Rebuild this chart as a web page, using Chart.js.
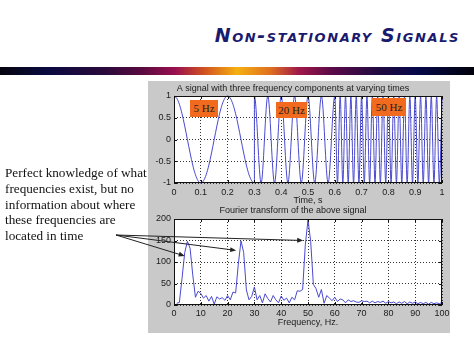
<!DOCTYPE html>
<html>
<head>
<meta charset="utf-8">
<script src="https://cdn.jsdelivr.net/npm/chart.js@4.4.1/dist/chart.umd.min.js"></script>
<style>
html,body{margin:0;padding:0;background:#fff;}
#slide{position:relative;width:474px;height:355px;overflow:hidden;background:#fff;}
#title{position:absolute;right:14px;top:26px;font-family:"DejaVu Sans",sans-serif;font-style:italic;font-weight:bold;font-size:19px;line-height:19px;font-variant:small-caps;letter-spacing:1.6px;color:#1a1a6e;white-space:nowrap;}
#bar{position:absolute;left:0;top:67px;width:474px;height:8px;
 background:linear-gradient(to right,#05050f 0%,#0a0a40 10%,#2a0a3a 22%,#5a0a40 30%,#9a1050 37%,#d05020 43%,#f5b010 50%,#e07020 57%,#a01848 63%,#5a0a48 70%,#200a40 80%,#05084a 88%,#02020a 100%);}
#panel{position:absolute;left:148px;top:81px;width:302px;height:252px;background:#c9c9c9;}
canvas{position:absolute;left:0;}
#c1{top:81px;}
#c2{top:205px;}
.tag{position:absolute;background:#f26a1e;font-family:"Liberation Serif",serif;font-size:11px;color:#222;text-align:center;}
#note{position:absolute;left:5px;top:165px;font-family:"Liberation Serif",serif;font-size:13.2px;line-height:15.8px;color:#111;white-space:nowrap;}
</style>
</head>
<body>
<div id="slide">
  <div id="title">Non-stationary Signals</div>
  <div id="bar"></div>
  <div id="panel"></div>
  <canvas id="c1" width="474" height="130"></canvas>
  <canvas id="c2" width="474" height="135"></canvas>
  <div class="tag" style="left:190px;top:100px;width:28px;height:17px;line-height:17px;">5 Hz</div>
  <div class="tag" style="left:276px;top:102px;width:31px;height:16px;line-height:16px;">20 Hz</div>
  <div class="tag" style="left:372px;top:98px;width:34px;height:18px;line-height:18px;">50 Hz</div>
  <div id="note">Perfect knowledge of what<br>frequencies exist, but no<br>information about where<br>these frequencies are<br>located in time</div>
</div>
<script>
// ---- data ----
const signalTime5 = [0,0.01,0.02,0.03,0.04,0.05,0.06,0.07,0.08,0.09,0.1,0.11,0.12,0.13,0.14,0.15,0.16,0.17,0.18,0.19,0.2,0.21,0.22,0.23,0.24,0.25,0.26,0.27,0.28,0.29,0.3];
const signalVal5 = [1,0.95,0.81,0.59,0.31,0,-0.31,-0.59,-0.81,-0.95,-1,-0.95,-0.81,-0.59,-0.31,0,0.31,0.59,0.81,0.95,1,0.95,0.81,0.59,0.31,0,-0.31,-0.59,-0.81,-0.95,-1];
const signalTime20 = [0.3,0.325,0.35,0.375,0.4,0.425,0.45,0.475,0.5,0.525,0.55,0.575];
const signalVal20 = [1,-1,1,-1,1,-1,1,-1,1,-1,1,-1];
const signalTime50 = [0.6,0.61,0.62,0.63,0.64,0.65,0.66,0.67,0.68,0.69,0.7,0.71,0.72,0.73,0.74,0.75,0.76,0.77,0.78,0.79,0.8,0.81,0.82,0.83,0.84,0.85,0.86,0.87,0.88,0.89,0.9,0.91,0.92,0.93,0.94,0.95,0.96,0.97,0.98,0.99,1];
const signalVal50 = [1,-1,1,-1,1,-1,1,-1,1,-1,1,-1,1,-1,1,-1,1,-1,1,-1,1,-1,1,-1,1,-1,1,-1,1,-1,1,-1,1,-1,1,-1,1,-1,1,-1,1];

const freqHz = [1,2,3,4,5,6,7,8,9,10,11,12,13,14,15,16,17,18,19,20,21,22,23,24,25,26,27,28,29,30,31,32,33,34,35,36,37,38,39,40,41,42,43,44,45,46,47,48,49,50,51,52,53,54,55,56,57,58,59,60,61,62,63,64,65,66,67,68,69,70,71,72,73,74,75,76,77,78,79,80,81,82,83,84,85,86,87,88,89,90,91,92,93,94,95,96,97,98,99,100];
const spectrum = [4,6,62,122,148,132,70,18,32,27,
 16,22,9,20,2,19,14,17,11,22,
 12,30,28,95,149,122,35,12,20,42,
 12,22,5,26,15,7,22,12,5,21,
 11,16,5,18,12,33,32,36,140,198,
 148,48,38,18,36,4,22,16,10,18,
 8,14,12,5,12,8,10,7,6,10,
 8,9,5,9,5,8,6,9,4,8,
 5,7,3,7,4,8,3,7,4,7,
 3,6,3,6,2,6,3,5,3,6];

const timeTicks = [0,0.1,0.2,0.3,0.4,0.5,0.6,0.7,0.8,0.9,1];
const ampTicks = [-1,-0.5,0,0.5,1];
const freqTicks = [0,10,20,30,40,50,60,70,80,90,100];
const magTicks = [0,50,100,150,200];

const topTitle = 'A signal with three frequency components at varying times';
const topXLabel = 'Time, s';
const botTitle = 'Fourier transform of the above signal';
const botXLabel = 'Frequency, Hz.';

// ---- drawing ----
const FONT = '"Liberation Sans", Arial, sans-serif';
const LINE = '#4a4ad0';
const TXT = '#1a1a1a';

function zip(xs, ys){ return xs.map((x,i)=>({x:x, y:ys[i]})); }
function fmt(v){ return String(Math.round(v*1000)/1000); }

const framePlugin = {
  id:'frame',
  beforeDraw(c){
    const a=c.chartArea, ctx=c.ctx;
    ctx.save(); ctx.fillStyle='#fff';
    ctx.fillRect(a.left,a.top,a.right-a.left,a.bottom-a.top);
    ctx.restore();
  },
  afterDatasetsDraw(c){
    const a=c.chartArea, ctx=c.ctx;
    ctx.save(); ctx.strokeStyle='#111'; ctx.lineWidth=1;
    ctx.strokeRect(Math.round(a.left)+0.5, Math.round(a.top)+0.5, Math.round(a.right-a.left)-1, Math.round(a.bottom-a.top)-1);
    ctx.beginPath();
    c.scales.x.ticks.forEach(t=>{ const px=Math.round(c.scales.x.getPixelForValue(t.value))+0.5;
      ctx.moveTo(px,a.bottom); ctx.lineTo(px,a.bottom-3); ctx.moveTo(px,a.top); ctx.lineTo(px,a.top+3); });
    c.scales.y.ticks.forEach(t=>{ const py=Math.round(c.scales.y.getPixelForValue(t.value))+0.5;
      ctx.moveTo(a.left,py); ctx.lineTo(a.left+3,py); ctx.moveTo(a.right,py); ctx.lineTo(a.right-3,py); });
    ctx.stroke();
    ctx.restore();
  }
};

function scalesFor(xmin,xmax,xt,ymin,ymax,yt,xLabel,xPad){
  const grid = {color:'#333', drawTicks:false, lineWidth:1};
  return {
    x:{type:'linear', min:xmin, max:xmax,
       afterBuildTicks:s=>{ s.ticks = xt.map(v=>({value:v})); },
       ticks:{padding:xPad, color:TXT, font:{family:FONT,size:9}, maxRotation:0, autoSkip:false, callback:fmt},
       grid:grid, border:{display:false, dash:[1,2]},
       title:{display:true, text:xLabel, color:TXT, font:{family:FONT,size:9}, padding:0},
       afterFit:s=>{ s.height=23; }},
    y:{type:'linear', min:ymin, max:ymax,
       afterBuildTicks:s=>{ s.ticks = yt.map(v=>({value:v})); },
       ticks:{padding:3, color:TXT, font:{family:FONT,size:9}, callback:fmt},
       grid:grid, border:{display:false, dash:[1,2]},
       afterFit:s=>{ s.width=30; }}
  };
}

new Chart(document.getElementById('c1'), {
  type:'line',
  data:{datasets:[{
    label:'signal',
    data: zip(signalTime5,signalVal5).concat(zip(signalTime20,signalVal20), zip(signalTime50,signalVal50)),
    borderColor:LINE, borderWidth:1, pointRadius:0, fill:false,
    cubicInterpolationMode:'monotone', clip:false
  }]},
  options:{
    responsive:false, animation:false, devicePixelRatio:1,
    layout:{padding:{left:144, right:32, top:2, bottom:5}},
    plugins:{legend:{display:false}, tooltip:{enabled:false},
      title:{display:true, text:topTitle, color:TXT, font:{family:FONT,size:9,weight:'normal'}, padding:{top:0,bottom:2.2}}},
    scales: scalesFor(0,1,timeTicks,-1,1,ampTicks,topXLabel,4)
  },
  plugins:[framePlugin]
});

const arrowPlugin = {
  id:'arrows',
  afterDraw(c){
    const ctx=c.ctx, xs=c.scales.x, ys=c.scales.y;
    const origin = {x:116, y:30};
    const targets = [[4.0,114],[23.2,127],[48.2,150]];
    ctx.save(); ctx.strokeStyle='#222'; ctx.fillStyle='#222'; ctx.lineWidth=1;
    targets.forEach(([fx,fy])=>{
      const tx=xs.getPixelForValue(fx), ty=ys.getPixelForValue(fy);
      const ang=Math.atan2(ty-origin.y, tx-origin.x);
      ctx.beginPath(); ctx.moveTo(origin.x,origin.y); ctx.lineTo(tx-5*Math.cos(ang), ty-5*Math.sin(ang)); ctx.stroke();
      ctx.beginPath(); ctx.moveTo(tx,ty);
      ctx.lineTo(tx-6*Math.cos(ang)+2.5*Math.sin(ang), ty-6*Math.sin(ang)-2.5*Math.cos(ang));
      ctx.lineTo(tx-6*Math.cos(ang)-2.5*Math.sin(ang), ty-6*Math.sin(ang)+2.5*Math.cos(ang));
      ctx.closePath(); ctx.fill();
    });
    ctx.restore();
  }
};

new Chart(document.getElementById('c2'), {
  type:'line',
  data:{datasets:[{
    label:'spectrum',
    data: zip(freqHz,spectrum),
    borderColor:LINE, borderWidth:1, pointRadius:0, fill:false, tension:0, clip:false
  }]},
  options:{
    responsive:false, animation:false, devicePixelRatio:1,
    layout:{padding:{left:144, right:32, top:0, bottom:12}},
    plugins:{legend:{display:false}, tooltip:{enabled:false},
      title:{display:true, text:botTitle, color:TXT, font:{family:FONT,size:9,weight:'normal'}, padding:{top:0,bottom:3.2}}},
    scales: scalesFor(0,100,freqTicks,0,200,magTicks,botXLabel,3)
  },
  plugins:[framePlugin, arrowPlugin]
});
</script>
</body>
</html>
